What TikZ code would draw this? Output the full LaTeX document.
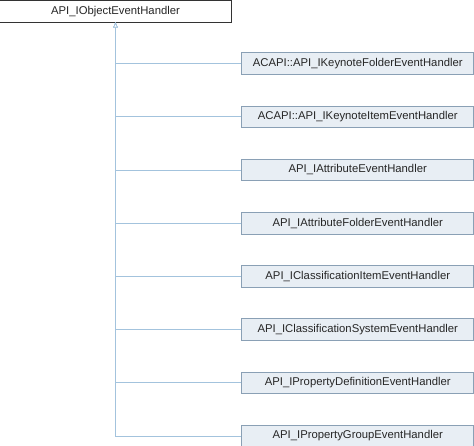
\documentclass[tikz,border=0pt]{standalone}
\usepackage{fontspec}
\setmainfont{Liberation Sans}
\usetikzlibrary{positioning,arrows.meta}
\definecolor{edgeblue}{HTML}{A3C3DD}
\definecolor{boxfill}{HTML}{E8EEF4}
\definecolor{boxline}{HTML}{8AA0B5}

\begin{document}
\begin{tikzpicture}[x=1pt,y=-1pt,node distance=31.1pt,
    every node/.style={minimum width=232pt,minimum height=21.5pt,inner sep=0pt,
        font=\fontsize{11.3}{13}\selectfont,text=black!85,align=center},
    base/.style={draw=black!80,fill=white,line width=0.8pt},
    cls/.style={draw=boxline,fill=boxfill,line width=0.6pt},
    inh/.style={draw=edgeblue,line width=0.6pt,-{Triangle[open,length=5pt,width=4pt,fill=white]}}]
                \useasboundingbox (0,0) rectangle (474,445);

                \node[base] (root) at (115.5,11.25) {API\_IObjectEventHandler};
                \node[cls] (kfold) at (357.75,63.5) {ACAPI::API\_IKeynoteFolderEventHandler};
                \node[cls,below=of kfold] (kitem) {ACAPI::API\_IKeynoteItemEventHandler};
                \node[cls,below=of kitem] (attr) {API\_IAttributeEventHandler};
                \node[cls,below=of attr] (attrfold) {API\_IAttributeFolderEventHandler};
                \node[cls,below=of attrfold] (clitem) {API\_IClassificationItemEventHandler};
                \node[cls,below=of clitem] (clsys) {API\_IClassificationSystemEventHandler};
                \node[cls,below=of clsys] (propdef) {API\_IPropertyDefinitionEventHandler};
                \node[cls,below=of propdef] (propgrp) {API\_IPropertyGroupEventHandler};

                \foreach \c in {kfold,kitem,attr,attrfold,clitem,clsys,propdef,propgrp}
                    \draw[inh] (\c.west) -| (root.south);

            \end{tikzpicture}
\end{document}
